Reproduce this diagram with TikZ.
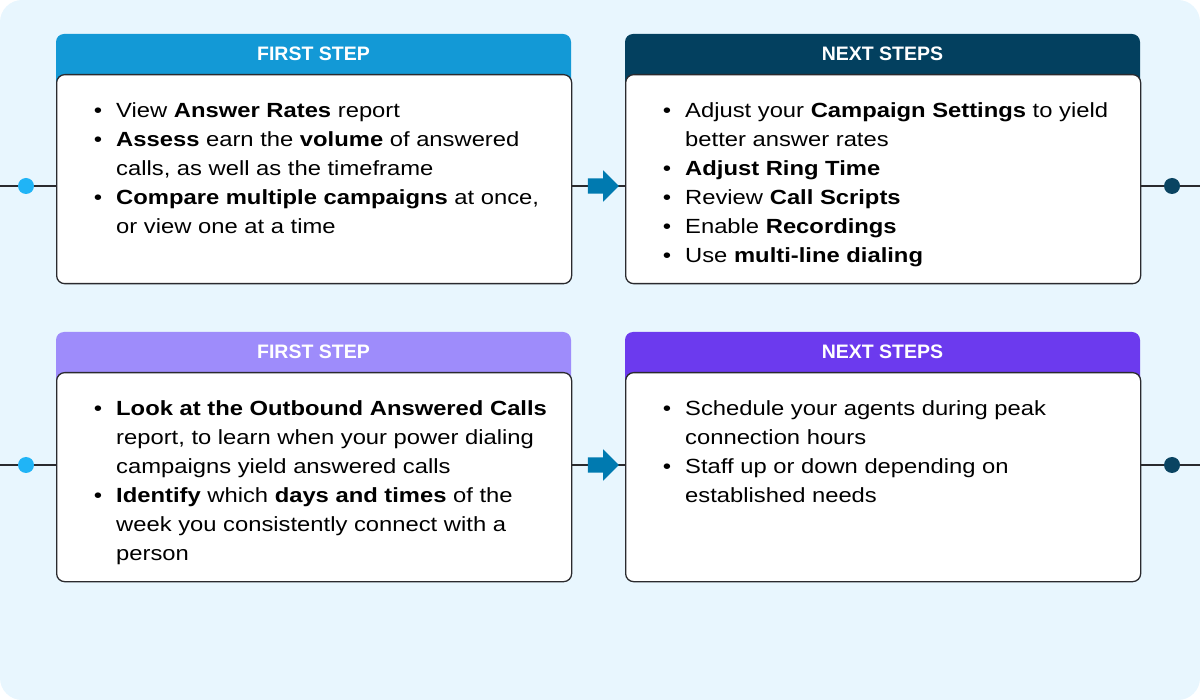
\documentclass[tikz,border=0pt]{standalone}
\usepackage{fontspec}
\setmainfont[FakeStretch=1.16]{Liberation Sans}
\newfontfamily\hdrfont{Liberation Sans}
\usetikzlibrary{shapes.arrows}
\definecolor{bg}{HTML}{E8F6FE}
\definecolor{ink}{HTML}{2A2A2E}
\definecolor{hdrA}{HTML}{1399D6}
\definecolor{hdrB}{HTML}{03405F}
\definecolor{hdrC}{HTML}{9E8CFB}
\definecolor{hdrD}{HTML}{6C3AEE}
\definecolor{dotA}{HTML}{20B4F6}
\definecolor{dotB}{HTML}{0A4462}
\definecolor{arr}{HTML}{007AB0}
\tikzset{
  panel/.style={draw=ink,line width=1.3pt,fill=white,rounded corners=8pt,minimum width=515pt,minimum height=209pt,inner sep=0pt},
  hdrtext/.style={text=white,inner sep=0pt,font=\hdrfont\fontsize{19.5}{20}\selectfont\bfseries},
  items/.style={align=left,inner sep=0pt,text=black,font=\fontsize{20.5}{29}\selectfont},
  wire/.style={draw=ink,line width=1.6pt},
  endpt/.style={circle,minimum size=16pt,inner sep=0pt},
  fwd/.style={single arrow,fill=arr,inner sep=7.5pt,minimum height=31pt,single arrow head extend=8pt,single arrow head indent=0pt},
}
\newcommand{\itm}{\llap{\textbullet\hspace{14pt}}}
% #1 name, #2 x, #3 y, #4 colour, #5 title
\newcommand{\stepcard}[5]{%
  \fill[#4,rounded corners=8pt] (#2,#3) rectangle ++(515,56);
  \node[hdrtext] (#1h) at (#2+257.5,#3+20) {#5};
  \node[panel,anchor=north west] (#1) at (#2,#3+40) {};
}

\begin{document}
\begin{tikzpicture}[x=1pt,y=-1pt]
  \useasboundingbox (0,0) rectangle (1200,700);
  \fill[bg,rounded corners=22pt] (0,0) rectangle (1200,700);
  % cards
  \stepcard{c1}{56}{34}{hdrA}{FIRST STEP}
  \stepcard{c2}{625}{34}{hdrB}{NEXT STEPS}
  \stepcard{c3}{56}{332}{hdrC}{FIRST STEP}
  \stepcard{c4}{625}{332}{hdrD}{NEXT STEPS}
  % card texts
  \node[items,anchor=north west] (t1) at ([shift={(60,28.5)}]c1.north west)
    {\itm View \textbf{Answer Rates} report\\
     \itm\textbf{Assess} earn the \textbf{volume} of answered\\
     calls, as well as the timeframe\\
     \itm\textbf{Compare multiple campaigns} at once,\\
     or view one at a time};
  \node[items,anchor=north west] (t2) at ([shift={(60,28.5)}]c2.north west)
    {\itm Adjust your \textbf{Campaign Settings} to yield\\
     better answer rates\\
     \itm\textbf{Adjust Ring Time}\\
     \itm Review \textbf{Call Scripts}\\
     \itm Enable \textbf{Recordings}\\
     \itm Use \textbf{multi-line dialing}};
  \node[items,anchor=north west] (t3) at ([shift={(60,28.5)}]c3.north west)
    {\itm\textbf{Look at the Outbound Answered Calls}\\
     report, to learn when your power dialing\\
     campaigns yield answered calls\\
     \itm\textbf{Identify} which \textbf{days and times} of the\\
     week you consistently connect with a\\
     person};
  \node[items,anchor=north west] (t4) at ([shift={(60,28.5)}]c4.north west)
    {\itm Schedule your agents during peak\\
     connection hours\\
     \itm Staff up or down depending on\\
     established needs};
  % row connectors
  \foreach \r/\y/\a/\b in {1/186/c1/c2,2/465/c3/c4} {
    \coordinate (s\r) at (0,\y);
    \coordinate (e\r) at (1200,\y);
    \draw[wire] (s\r) -- (s\r -| \a.west);
    \draw[wire] (\a.east |- s\r) -- (\b.west |- s\r);
    \draw[wire] (\b.east |- s\r) -- (e\r);
    \node[endpt,fill=dotA] (p\r) at (26,\y) {};
    \node[fwd] (f\r) at (599.5,\y) {};
    \node[endpt,fill=dotB] (q\r) at (1172,\y) {};
  }
\end{tikzpicture}
\end{document}
